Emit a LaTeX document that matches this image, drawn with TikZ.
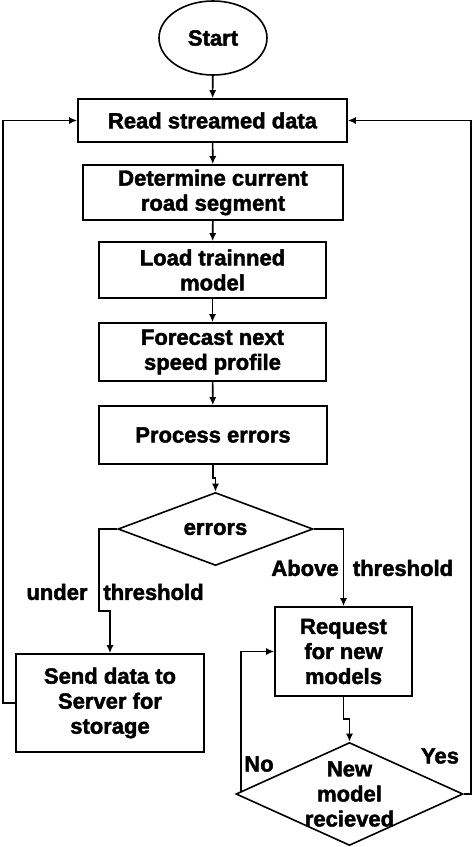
\documentclass[tikz,border=0pt]{standalone}
\usepackage{fontspec}
\setmainfont{Liberation Sans}[BoldFeatures={FakeBold=2}]
\usetikzlibrary{shapes.geometric,arrows.meta}
\begin{document}
\begin{tikzpicture}[x=1pt,y=-1pt,
  lbl/.style={font=\bfseries\fontsize{22}{25}\selectfont, align=center, inner sep=0pt},
  stepbox/.style={draw, line width=1.6pt, lbl, inner sep=0pt},
  dia/.style={draw, line width=1.6pt, diamond, inner sep=0pt, minimum width=#1},
  conn/.style={line width=1.6pt, -{Latex[length=8pt,width=7pt]}},
  plain/.style={line width=1.6pt}
]
\useasboundingbox (0,0) rectangle (474,847);
% nodes
\node[draw, line width=1.6pt, ellipse, minimum width=108pt, minimum height=74pt, lbl] (start) at (213,38) {Start};
\node[stepbox, minimum width=269pt, minimum height=43pt] (read) at (212.5,120.5) {Read streamed data};
\node[stepbox, minimum width=260pt, minimum height=55pt] (det) at (213,192.5) {Determine current\\road segment};
\node[stepbox, minimum width=227pt, minimum height=56pt] (load) at (212.5,270) {Load trainned\\model};
\node[stepbox, minimum width=227pt, minimum height=58pt] (fore) at (212.5,352) {Forecast next\\speed profile};
\node[stepbox, minimum width=228pt, minimum height=58pt] (proc) at (213,435) {Process errors};
\node[dia=195pt, minimum height=73pt] (err) at (215.5,529) {};
\node[lbl] (errt) at (err) {errors};
\node[stepbox, minimum width=188pt, minimum height=98pt] (send) at (110,703) {Send data to\\Server for\\storage};
\node[stepbox, minimum width=137pt, minimum height=89pt] (req) at (343.5,651.5) {Request\\for new\\models};
\node[dia=227pt, minimum height=103pt] (nm) at (349.5,794) {};
\node[lbl] (nmt) at (349.5,794) {New\\model\\recieved};
% labels
\node[lbl] (under) at (57,592) {under};
\node[lbl] (thr1) at (153.5,592) {threshold};
\node[lbl] (above) at (305,568) {Above};
\node[lbl] (thr2) at (403,568) {threshold};
\node[lbl] (no) at (259,764) {No};
\node[lbl] (yes) at (440,756) {Yes};
% coordinates
\coordinate (ul) at (99,611);
\coordinate (nol) at (241,792);
\coordinate (yr) at (471,794);
\coordinate (lf) at (3,703);
% connectors
\draw[conn] (start) -- (read);
\draw[conn] (read) -- (det);
\draw[conn] (det) -- (load);
\draw[conn] (load) -- (fore);
\draw[conn] (fore) -- (proc);
\draw[conn] (proc.south) -- ++(0,13) -| (err.north);
\draw[conn] (err.west) -| (ul) -| (send.north);
\draw[conn] (err.east) -| (req.north);
\draw[conn] (req.south) -- ++(0,22) -| (nm.north);
\draw[conn] (nol) |- (req.west);
\draw[conn] (nm.east) -- (yr) |- (read.east);
\draw[conn] (send.west) -- (lf) |- (read.west);
\end{tikzpicture}
\end{document}
